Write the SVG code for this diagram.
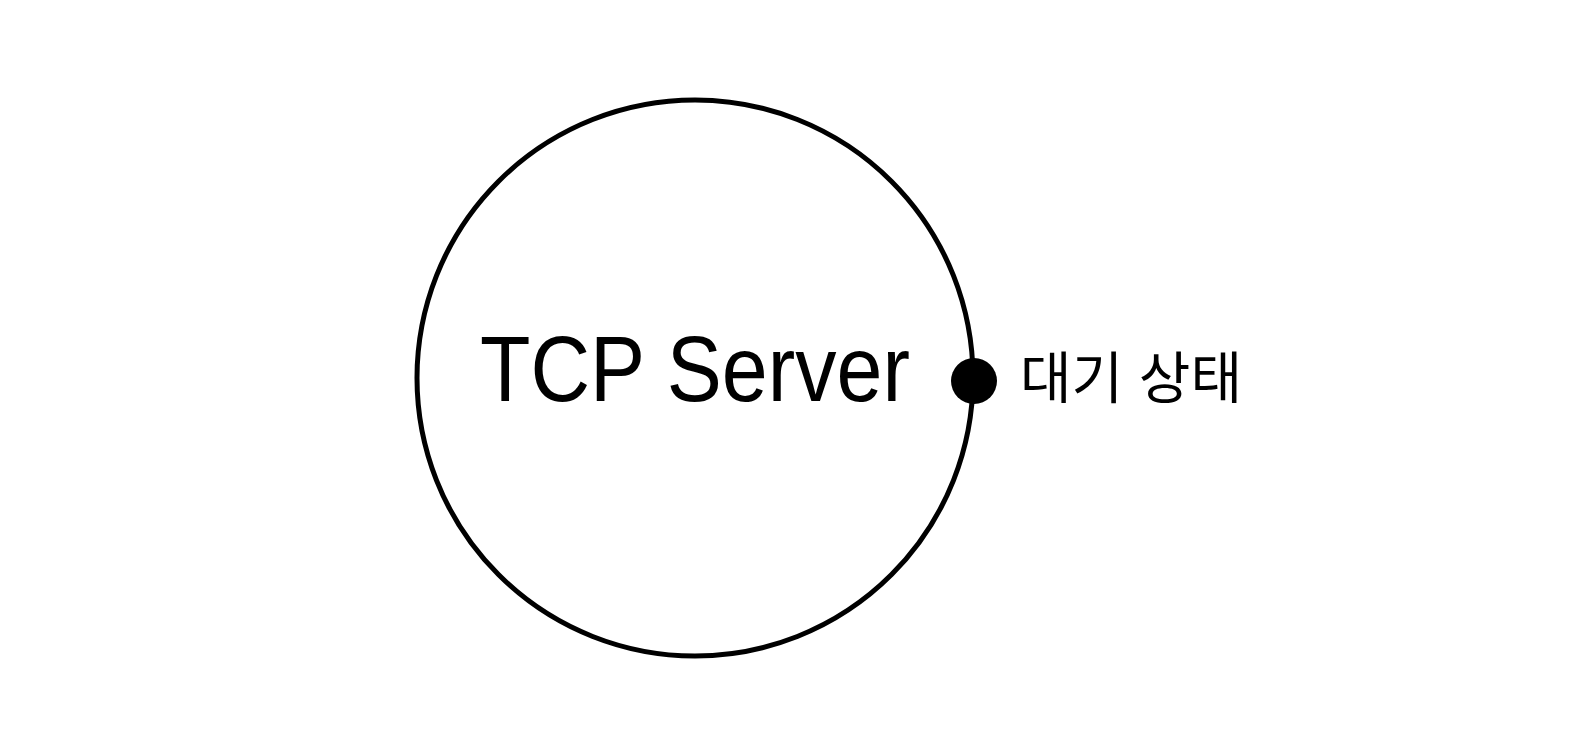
<svg xmlns="http://www.w3.org/2000/svg" width="1571" height="752" viewBox="0 0 1571 752">
<style>
.t{font-family:"Liberation Sans","Noto Sans CJK KR",sans-serif;fill:#000}
</style>
<rect width="1571" height="752" fill="#fff"/>
<g id="server">
<circle cx="695" cy="378" r="278" fill="none" stroke="#000" stroke-width="5"/>
<text class="t" x="695" y="401" font-size="92" text-anchor="middle" textLength="430" lengthAdjust="spacingAndGlyphs">TCP Server</text>
</g>
<g id="connectors"></g>
<g id="port">
<circle cx="974" cy="381" r="23" fill="#000"/>
<text class="t" x="1020" y="398" font-size="56" textLength="222" lengthAdjust="spacingAndGlyphs">대기 상태</text>
</g>
</svg>
